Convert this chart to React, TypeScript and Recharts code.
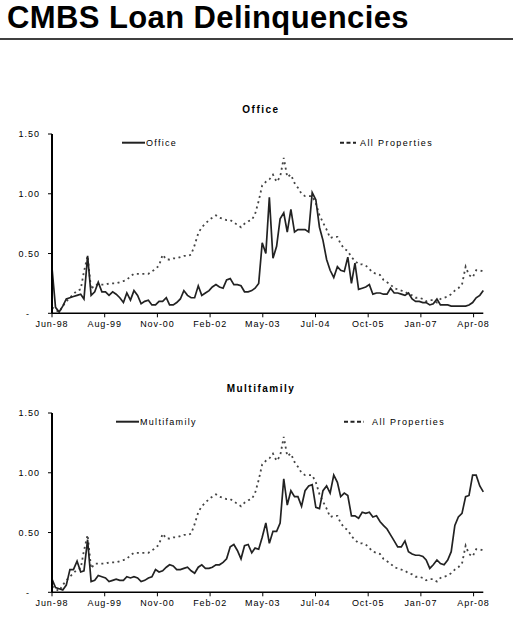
import { Line, LineChart, XAxis, YAxis } from "recharts";

const FONT = "'Liberation Sans', Arial, sans-serif";

// monthly, Jun-98 .. Jul-08
const ALL_PROPERTIES = [
    0.05, 0.03, 0.01, 0.06, 0.10, 0.13, 0.16, 0.19, 0.20, 0.35,
    0.48, 0.20, 0.24, 0.24, 0.24, 0.24, 0.25, 0.25, 0.25, 0.26,
    0.27, 0.28, 0.31, 0.33, 0.33, 0.33, 0.33, 0.33, 0.35, 0.37,
    0.40, 0.49, 0.45, 0.45, 0.46, 0.46, 0.47, 0.48, 0.48, 0.49,
    0.57, 0.67, 0.72, 0.75, 0.78, 0.80, 0.82, 0.80, 0.79, 0.78,
    0.78, 0.76, 0.74, 0.72, 0.75, 0.77, 0.78, 0.83, 0.94, 1.07,
    1.10, 1.12, 1.16, 1.10, 1.14, 1.30, 1.14, 1.16, 1.09, 1.05,
    1.00, 0.98, 0.98, 0.98, 0.92, 0.82, 0.76, 0.70, 0.63, 0.64,
    0.64, 0.58, 0.54, 0.52, 0.47, 0.44, 0.41, 0.41, 0.40, 0.37,
    0.34, 0.33, 0.32, 0.28, 0.26, 0.24, 0.21, 0.20, 0.19, 0.18,
    0.16, 0.15, 0.13, 0.13, 0.12, 0.10, 0.11, 0.11, 0.09, 0.12,
    0.13, 0.14, 0.16, 0.19, 0.21, 0.24, 0.39, 0.32, 0.30, 0.36,
    0.36, 0.35,
];

const OFFICE = [
    0.38, 0.05, 0.01, 0.06, 0.12, 0.13, 0.14, 0.15, 0.16, 0.12,
    0.48, 0.15, 0.18, 0.26, 0.18, 0.18, 0.15, 0.18, 0.16, 0.13,
    0.09, 0.17, 0.11, 0.19, 0.15, 0.08, 0.10, 0.11, 0.07, 0.07,
    0.10, 0.10, 0.13, 0.07, 0.07, 0.09, 0.12, 0.19, 0.15, 0.13,
    0.13, 0.23, 0.15, 0.17, 0.19, 0.22, 0.24, 0.22, 0.21, 0.28,
    0.29, 0.24, 0.24, 0.23, 0.18, 0.18, 0.19, 0.21, 0.25, 0.59,
    0.50, 0.97, 0.46, 0.56, 0.79, 0.84, 0.68, 0.87, 0.68, 0.70,
    0.70, 0.70, 0.68, 1.01, 0.95, 0.72, 0.61, 0.45, 0.36, 0.30,
    0.39, 0.36, 0.35, 0.47, 0.25, 0.42, 0.20, 0.21, 0.22, 0.24,
    0.16, 0.17, 0.17, 0.16, 0.16, 0.21, 0.17, 0.17, 0.16, 0.15,
    0.17, 0.12, 0.10, 0.10, 0.09, 0.09, 0.07, 0.08, 0.12, 0.07,
    0.07, 0.07, 0.06, 0.06, 0.06, 0.06, 0.06, 0.07, 0.09, 0.13,
    0.15, 0.19,
];

const MULTIFAMILY = [
    0.11, 0.04, 0.03, 0.02, 0.06, 0.19, 0.19, 0.26, 0.17, 0.18,
    0.44, 0.09, 0.10, 0.14, 0.13, 0.12, 0.09, 0.10, 0.11, 0.10,
    0.10, 0.13, 0.12, 0.13, 0.12, 0.09, 0.10, 0.12, 0.13, 0.19,
    0.17, 0.18, 0.21, 0.23, 0.22, 0.19, 0.19, 0.20, 0.21, 0.18,
    0.16, 0.21, 0.23, 0.20, 0.20, 0.21, 0.23, 0.23, 0.25, 0.28,
    0.38, 0.40, 0.35, 0.28, 0.39, 0.40, 0.33, 0.37, 0.36, 0.46,
    0.58, 0.41, 0.51, 0.51, 0.58, 0.95, 0.73, 0.85, 0.80, 0.80,
    0.72, 0.85, 0.89, 0.90, 0.71, 0.70, 0.85, 0.89, 0.83, 0.98,
    0.92, 0.80, 0.83, 0.81, 0.64, 0.64, 0.62, 0.67, 0.66, 0.67,
    0.63, 0.64, 0.59, 0.56, 0.53, 0.48, 0.43, 0.38, 0.38, 0.43,
    0.34, 0.32, 0.31, 0.31, 0.30, 0.27, 0.20, 0.23, 0.27, 0.24,
    0.23, 0.27, 0.34, 0.56, 0.63, 0.66, 0.80, 0.81, 0.98, 0.98,
    0.89, 0.84,
];

// date axis, one label every 450 days from Jun-98
const TICK_LABELS = ["Jun-98", "Aug-99", "Nov-00", "Feb-02", "May-03", "Jul-04", "Oct-05", "Jan-07", "Apr-08"];
const Y_TICKS = [0, 0.5, 1.0, 1.5];

const DAY = 86400000;
const START = Date.UTC(1998, 5, 1);
const data = ALL_PROPERTIES.map((all, i) => ({
    day: (Date.UTC(1998, 5 + i, 1) - START) / DAY,
    all,
    office: OFFICE[i],
    multi: MULTIFAMILY[i],
}));
const lastDay = data[data.length - 1].day;
const xTicks = TICK_LABELS.map((_, i) => i * 450);

const YTick = ({ x, y, payload }: any) => {
    const zero = payload.value === 0;
    return (
        <text x={zero ? 26 : x} y={y} dy={3.2} textAnchor={zero ? "start" : "end"}
            fill="#000" fontSize={9} fontFamily={FONT} style={{ letterSpacing: 1 }}>
            {zero ? "-" : payload.value.toFixed(2)}
        </text>
    );
};

const XTick = ({ x, y, index }: any) => (
    <text x={x} y={y} dy={6} textAnchor="middle" fill="#000" fontSize={9}
        fontFamily={FONT} style={{ letterSpacing: 0.9 }}>
        {TICK_LABELS[index] ?? ""}
    </text>
);

type PanelProps = {
    top: number,
    title: string,
    seriesKey: string,
    seriesName: string,
    solidX: number,
    dashX: number,
    dashW: number,
    allTextX: number,
};

const Panel = ({ top, title, seriesKey, seriesName, solidX, dashX, dashW, allTextX }: PanelProps) => (
    <>
        <svg width={513} height={60} style={{ position: "absolute", left: 0, top }}>
            <text x={261} y={13.3} textAnchor="middle" fontSize={10} fontWeight="bold"
                fontFamily={FONT} style={{ letterSpacing: 1.5 }}>{title}</text>
            <line x1={solidX} x2={solidX + 23} y1={42.7} y2={42.7} stroke="#222" strokeWidth={2} />
            <text x={solidX + 24} y={46.4} fontSize={9} fontFamily={FONT}
                style={{ letterSpacing: 1.3 }}>{seriesName}</text>
            <line x1={dashX} x2={dashX + dashW} y1={42.7} y2={42.7} stroke="#222"
                strokeWidth={2} strokeDasharray="4 2.5" />
            <text x={allTextX} y={46.4} fontSize={9} fontFamily={FONT}
                style={{ letterSpacing: 1.4 }}>All Properties</text>
        </svg>
        <div style={{ position: "absolute", left: 0, top }}>
            <LineChart width={513} height={240} data={data}
                margin={{ top: 34, right: 29.7, bottom: 6.7, left: 0 }}>
                <XAxis dataKey="day" type="number" domain={[0, lastDay]} ticks={xTicks} interval={0}
                    height={20} tick={<XTick />} tickSize={4} tickMargin={4}
                    axisLine={{ stroke: "#000", strokeWidth: 1.5 }} tickLine={{ stroke: "#000" }} />
                <YAxis type="number" domain={[0, 1.5]} ticks={Y_TICKS} interval={0} width={52}
                    tick={<YTick />} tickSize={4} tickMargin={8}
                    axisLine={{ stroke: "#000", strokeWidth: 2 }} tickLine={{ stroke: "#000" }} />
                <Line type="linear" dataKey="all" stroke="#444" strokeWidth={1.8}
                    strokeDasharray="2 3.5" dot={false} isAnimationActive={false} />
                <Line type="linear" dataKey={seriesKey} stroke="#222" strokeWidth={1.7}
                    dot={false} isAnimationActive={false} />
            </LineChart>
        </div>
    </>
);

export default function App() {
    return (
        <div style={{ position: "absolute", left: 0, top: 0, width: 513, height: 627, overflow: "hidden", background: "#fff" }}>
            <svg width={513} height={45} style={{ position: "absolute", left: 0, top: 0 }}>
                <text x={7} y={28.3} fontSize={31} fontWeight="bold" fontFamily={FONT}
                    style={{ letterSpacing: 0.4 }}>CMBS Loan Delinquencies</text>
                <line x1={0} x2={513} y1={39} y2={39} stroke="#000" strokeWidth={1.3} />
            </svg>
            <Panel top={100} title="Office" seriesKey="office" seriesName="Office"
                solidX={122} dashX={340} dashW={16} allTextX={360} />
            <Panel top={378.7} title="Multifamily" seriesKey="multi" seriesName="Multifamily"
                solidX={116} dashX={344} dashW={20} allTextX={372} />
        </div>
    );
}
